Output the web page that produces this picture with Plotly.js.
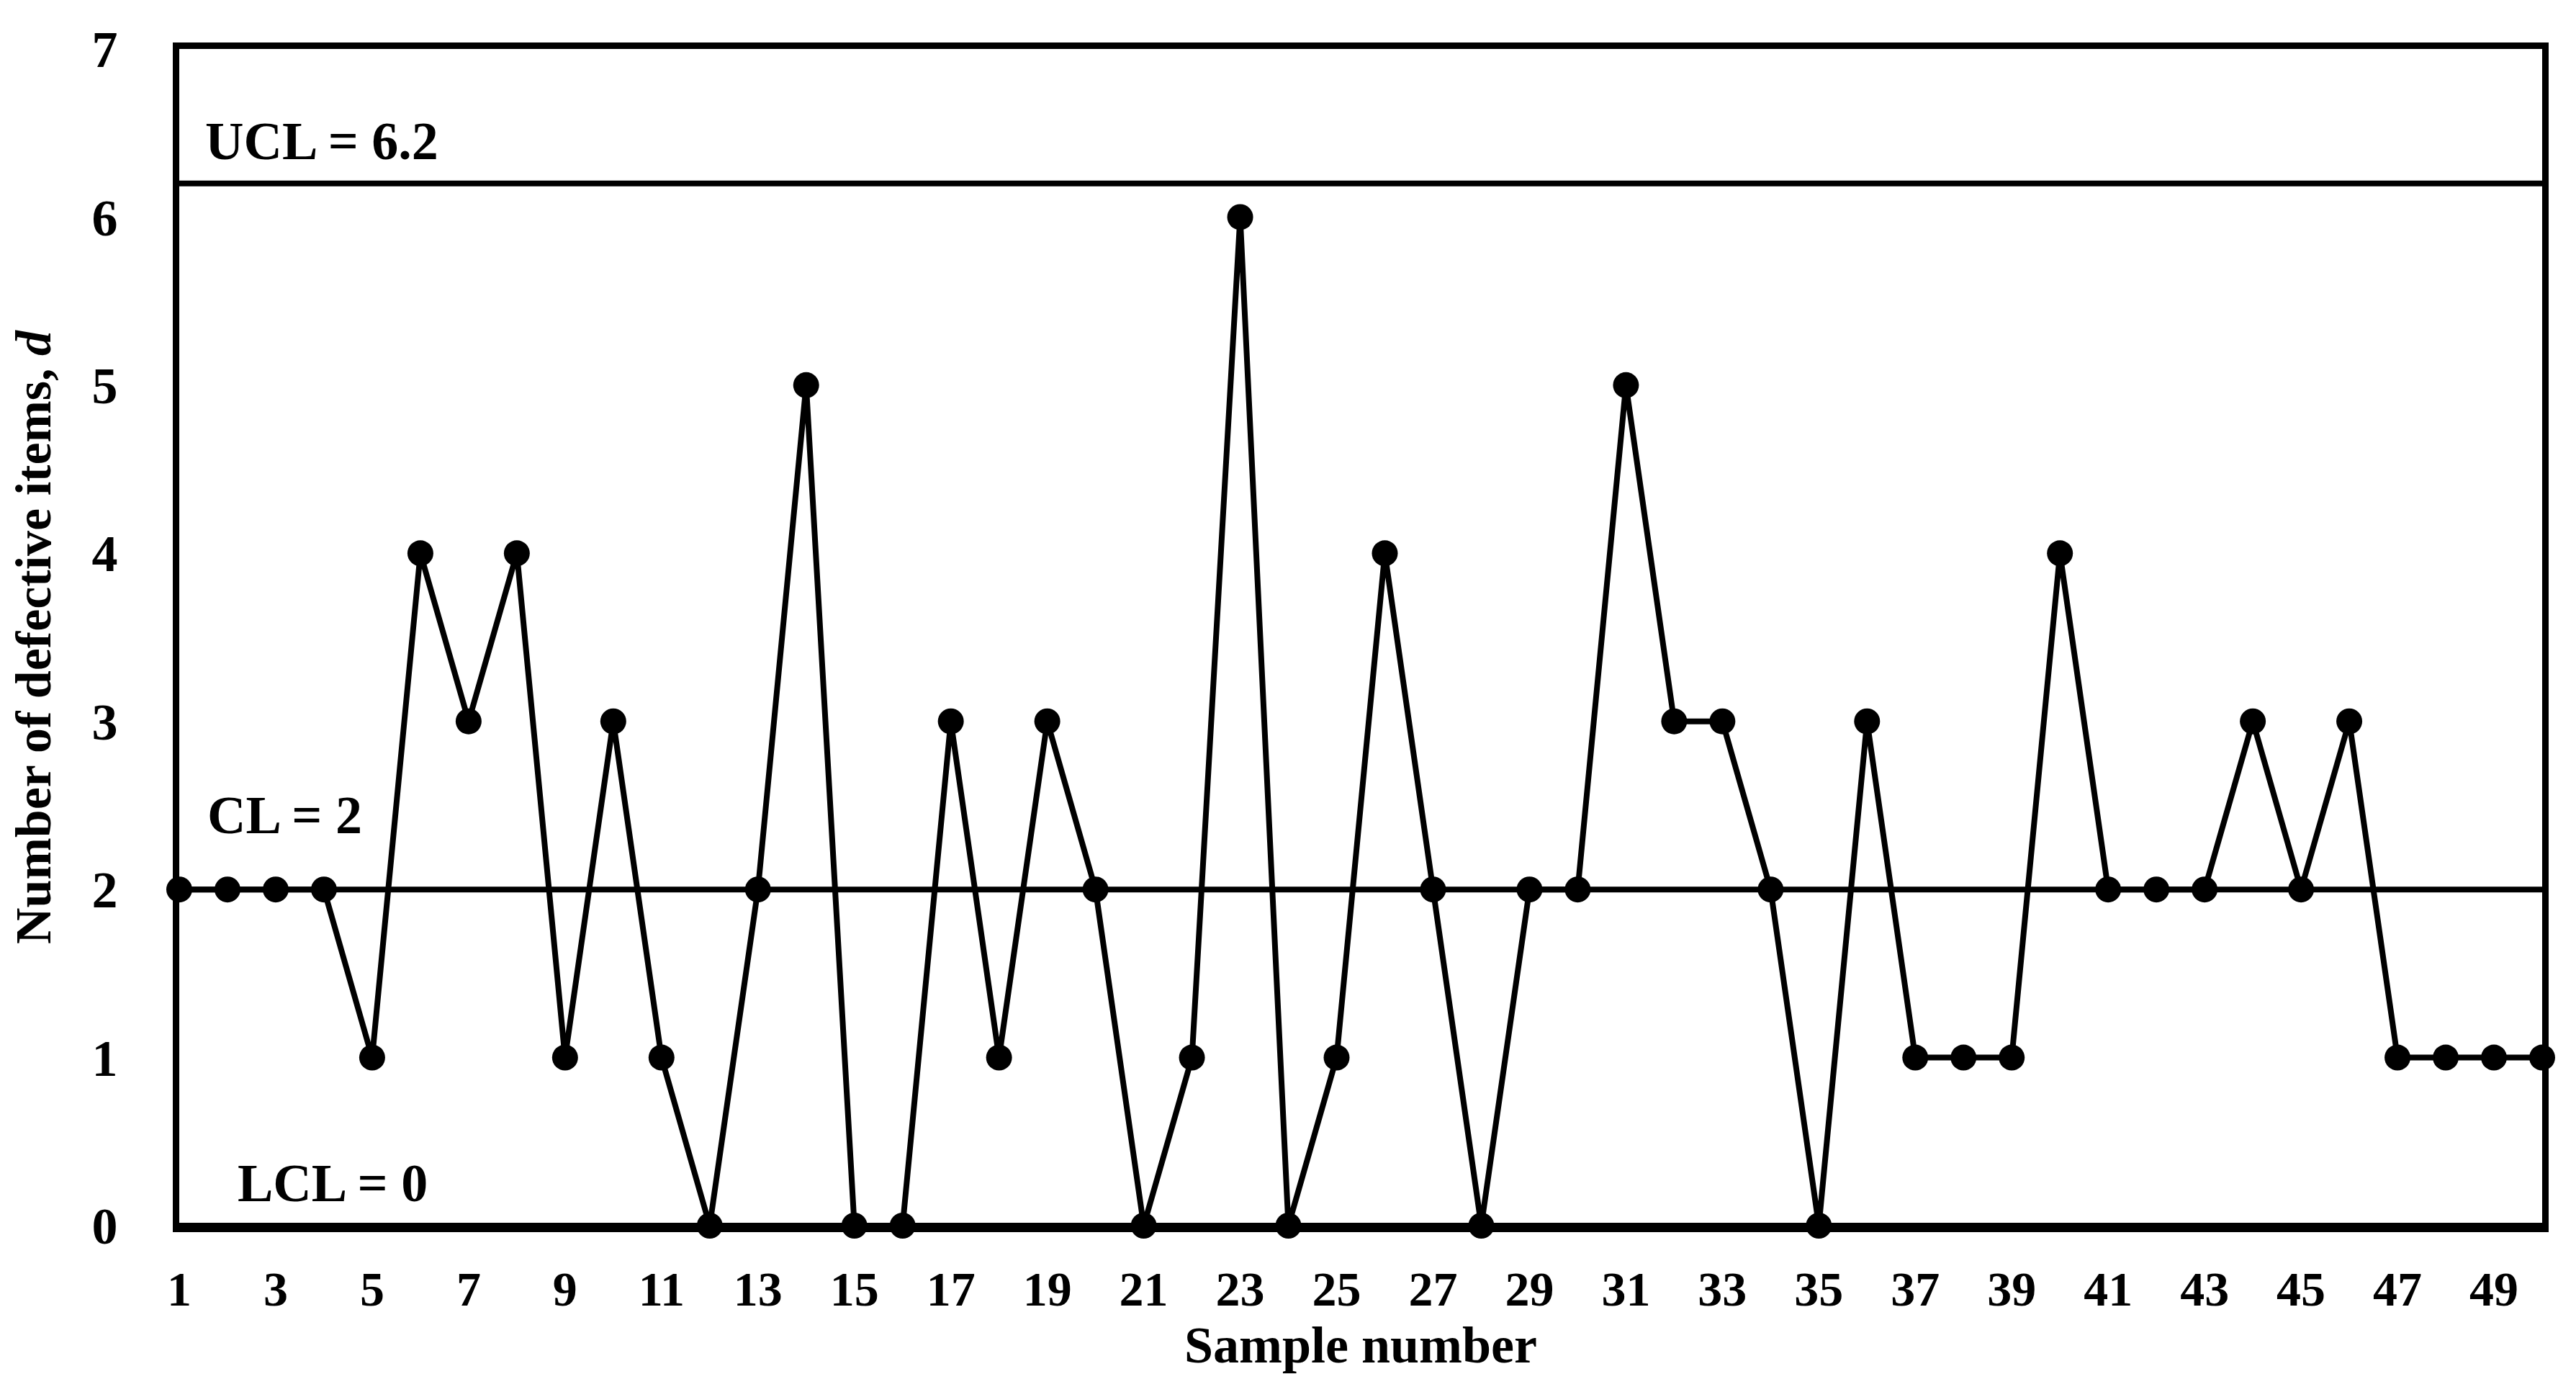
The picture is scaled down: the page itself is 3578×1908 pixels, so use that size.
<!DOCTYPE html>
<html>
<head>
<meta charset="utf-8">
<script src="https://cdn.plot.ly/plotly-3.0.1.min.js"></script>
<style>
  html, body { margin: 0; padding: 0; background: #fff; }
  #chart { width: 3578px; height: 1908px; }
</style>
</head>
<body>
<div id="chart"></div>
<script>
// number of defective items per sample
var sampleNumber = [1,2,3,4,5,6,7,8,9,10,11,12,13,14,15,16,17,18,19,20,21,22,23,24,25,
                    26,27,28,29,30,31,32,33,34,35,36,37,38,39,40,41,42,43,44,45,46,47,48,49,50];
var defects = [2,2,2,2,1,4,3,4,1,3,1,0,2,5,0,0,3,1,3,2,0,1,6,0,1,
               4,2,0,2,2,5,3,3,2,0,3,1,1,1,4,2,2,2,3,2,3,1,1,1,1];

// control limits
var limitNames = ['UCL', 'CL', 'LCL'];
var limitValues = [6.2, 2, 0];

var xTicks = [1,3,5,7,9,11,13,15,17,19,21,23,25,27,29,31,33,35,37,39,41,43,45,47,49];
var yTicks = [0,1,2,3,4,5,6,7];

var serif = 'Liberation Serif, Times New Roman, serif';

var trace = {
  x: sampleNumber,
  y: defects,
  mode: 'lines+markers',
  type: 'scatter',
  cliponaxis: false,
  line: { color: '#000', width: 8 },
  marker: { color: '#000', size: 36 },
  hoverinfo: 'x+y'
};

// horizontal limit lines
var shapes = limitValues.map(function (v) {
  return {
    type: 'line', xref: 'paper', x0: 0, x1: 1,
    yref: 'y', y0: v, y1: v,
    line: { color: '#000', width: 8 },
    layer: 'below'
  };
});

// label placement per limit
var labelXShift = [34, 37, 79];
var labelYShift = [16, 60, 16];
var annotations = limitNames.map(function (n, i) {
  return {
    text: n + ' = ' + limitValues[i],
    xref: 'paper', x: 0, xanchor: 'left', xshift: labelXShift[i],
    yref: 'y', y: limitValues[i], yanchor: 'bottom', yshift: labelYShift[i],
    showarrow: false,
    font: { family: serif, size: 74, color: '#000', weight: 700 }
  };
});

var layout = {
  width: 3578,
  height: 1908,
  margin: { l: 249, r: 47, t: 68, b: 206 },
  paper_bgcolor: '#fff',
  plot_bgcolor: '#fff',
  showlegend: false,
  xaxis: {
    range: [1, 50],
    tickvals: xTicks,
    ticktext: xTicks.map(String),
    ticks: '',
    ticklabelstandoff: 20,
    showgrid: false,
    zeroline: false,
    showline: true,
    mirror: true,
    linecolor: '#000',
    linewidth: 9,
    tickfont: { family: serif, size: 68, color: '#000', weight: 700 },
    title: {
      text: 'Sample number',
      standoff: 6,
      font: { family: serif, size: 72, color: '#000', weight: 700 }
    }
  },
  yaxis: {
    range: [0, 7],
    tickvals: yTicks,
    ticks: '',
    ticklabelstandoff: 62,
    showgrid: false,
    zeroline: false,
    showline: true,
    mirror: true,
    linecolor: '#000',
    linewidth: 9,
    tickfont: { family: serif, size: 72, color: '#000', weight: 700 },
    title: {
      text: 'Number of defective items, <i>d</i>',
      standoff: 38,
      font: { family: serif, size: 70, color: '#000', weight: 700 }
    }
  },
  shapes: shapes,
  annotations: annotations
};

Plotly.newPlot('chart', [trace], layout, { displayModeBar: false, staticPlot: true });
</script>
</body>
</html>
